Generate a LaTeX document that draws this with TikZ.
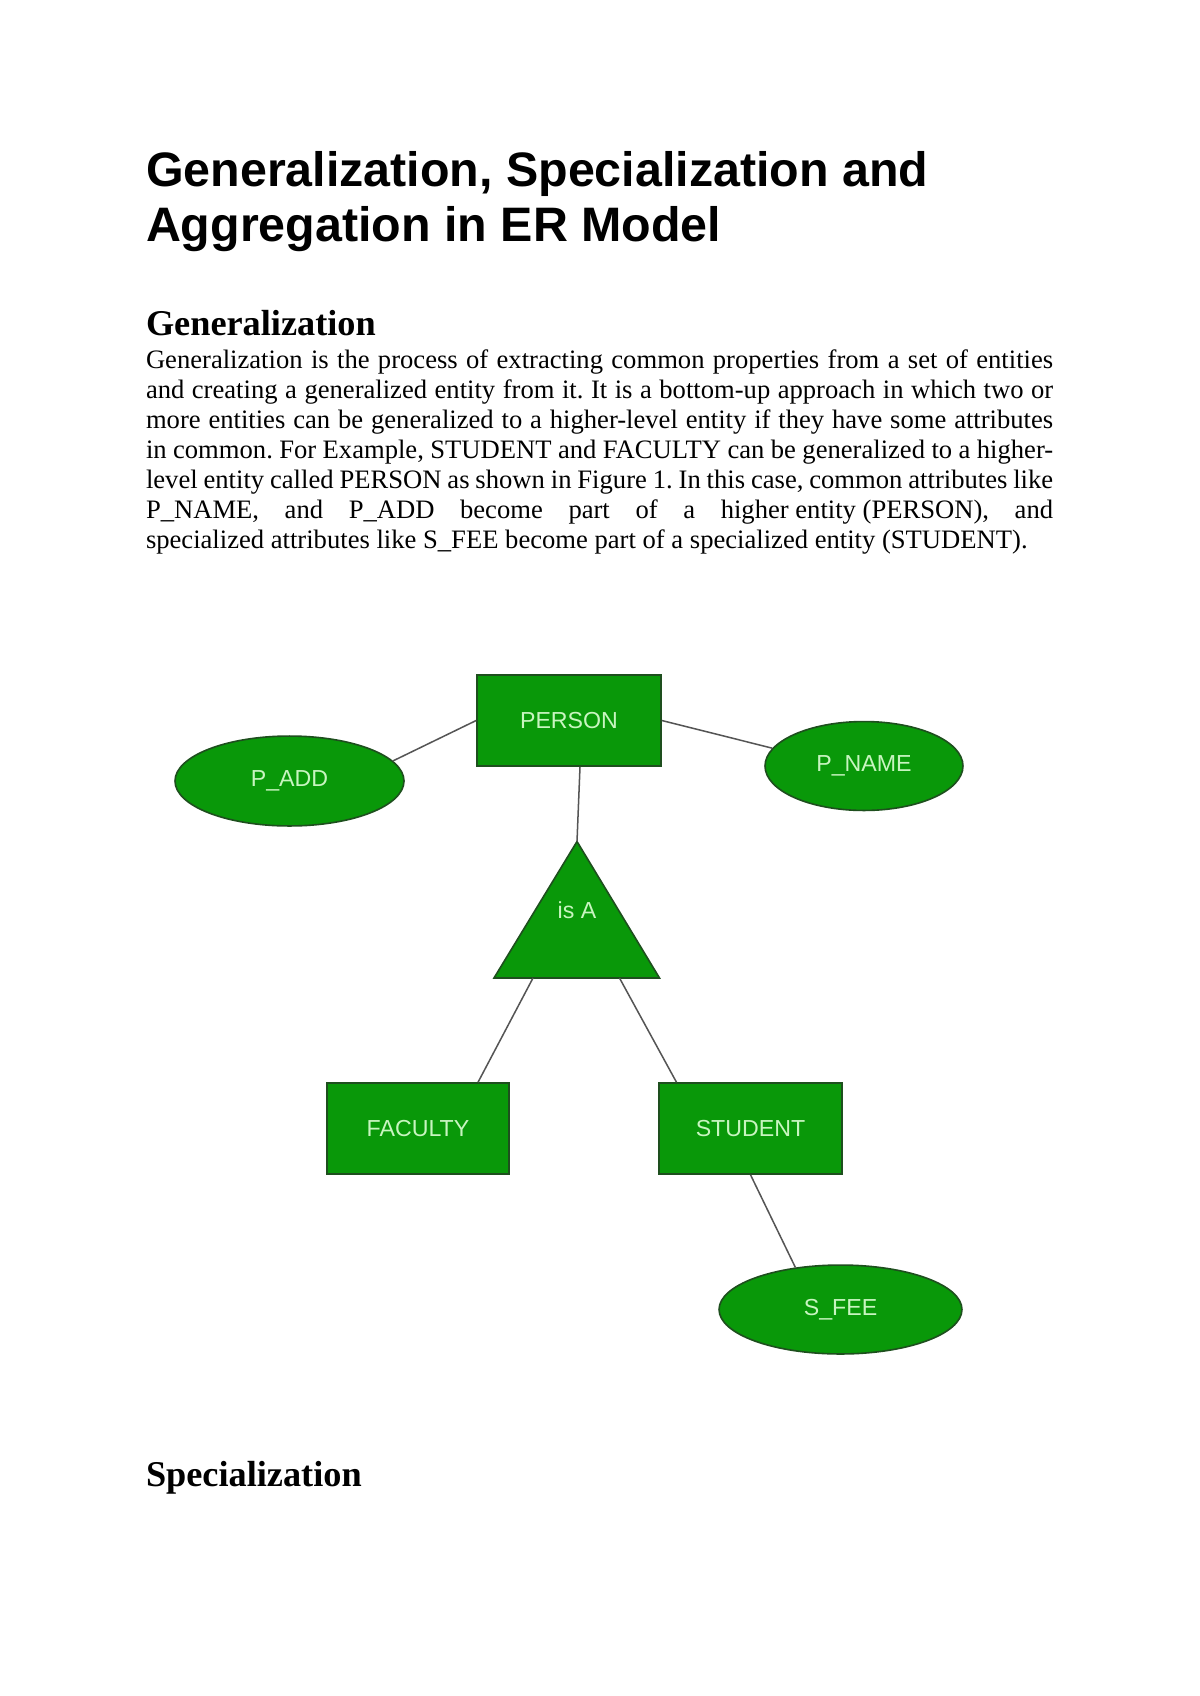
\documentclass[tikz,border=0pt]{standalone}
\usepackage{fontspec}
\setmainfont{Liberation Serif}
\newfontfamily\dsans{Liberation Sans}
\usetikzlibrary{shapes.geometric,calc}
\definecolor{erfill}{HTML}{099809}
\definecolor{ertext}{HTML}{C8F5C0}
\definecolor{erborder}{HTML}{1E4F1E}
\definecolor{erline}{HTML}{555555}
\newcommand\jline[1]{\makebox[450pt][s]{#1}}
\frenchspacing
\begin{document}
\begin{tikzpicture}[x=0.49606pt,y=-0.49606pt,
  txt/.style={inner sep=0pt, outer sep=0pt, anchor=base west},
  title/.style={txt, font=\dsans\bfseries\fontsize{24}{28}\selectfont},
  heading/.style={txt, font=\bfseries\fontsize{18}{21}\selectfont},
  para/.style={txt, font=\frenchspacing\fontsize{13.2}{15}\selectfont},
  erbase/.style={draw=erborder, fill=erfill, line width=0.8pt, inner sep=0pt,
    text=ertext, font=\dsans\fontsize{11.5}{13}\selectfont},
  entity/.style={erbase, rectangle, minimum width=90.5pt, minimum height=45.1pt},
  attr/.style={erbase, ellipse},
  conn/.style={draw=erline, line width=0.75pt}]
\useasboundingbox[fill=white] (0,0) rectangle (1200,1696);

% title and text
\node[title] (t1) at (146,186) {Generalization, Specialization and};
\node[title] (t2) at (146,241) {Aggregation in ER Model};
\node[heading] (h1) at (146,335) {Generalization};
\node[para] (p1) at (146,368) {\jline{Generalization is the process of extracting common properties from a set of entities}};
\node[para] (p2) at (146,398) {\jline{and creating a generalized entity from it. It is a bottom-up approach in which two or}};
\node[para] (p3) at (146,428) {\jline{more entities can be generalized to a higher-level entity if they have some attributes}};
\node[para] (p4) at (146,458) {\jline{in common. For Example, STUDENT and FACULTY can be generalized to a higher-}};
\node[para] (p5) at (146,488) {\jline{level entity called PERSON as shown in Figure 1. In this case, common attributes like}};
\node[para] (p6) at (146,518) {\jline{P\_NAME, and P\_ADD become part of a higher\hspace{0.25em}entity\hspace{0.25em}(PERSON), and}};
\node[para] (p7) at (146,548) {specialized attributes like S\_FEE become part of a specialized entity (STUDENT).};
\node[heading] (h2) at (146,1486) {Specialization};

% diagram
\node[entity, minimum width=91.3pt] (person) at (569,720.5) {PERSON};
\node[attr, minimum width=113.6pt, minimum height=44.6pt] (padd) at (289.5,781) {P\_ADD};
\node[attr, minimum width=98.2pt, minimum height=44.1pt] (pname) at (864,766) {P\_NAME};
\node[entity] (faculty) at (418,1128.5) {FACULTY};
\node[entity] (student) at (750.5,1128.5) {STUDENT};
\node[attr, minimum width=120.5pt, minimum height=44.1pt] (sfee) at (840.5,1309.5) {S\_FEE};

\coordinate (isaT) at (577,841.5);
\coordinate (isaL) at (494,978);
\coordinate (isaR) at (659.5,978);
\coordinate (isaBL) at (533,978);
\coordinate (isaBR) at (619.5,978);
\draw[draw=erborder, fill=erfill, line width=0.8pt, line join=miter] (isaT) -- (isaR) -- (isaL) -- cycle;
\node[inner sep=0pt, text=ertext, font=\dsans\fontsize{11.5}{13}\selectfont] (isa) at (577,910) {is A};

\draw[conn] (person.west) -- (padd.11);
\draw[conn] (person.east) -- (pname.169);
\draw[conn] ($(person.south)+(11,0)$) -- (isaT);
\draw[conn] (isaBL) -- ($(faculty.north east)+(-32,0)$);
\draw[conn] (isaBR) -- ($(student.north west)+(18,0)$);
\draw[conn] (student.south) -- (sfee.137);
\end{tikzpicture}
\end{document}
